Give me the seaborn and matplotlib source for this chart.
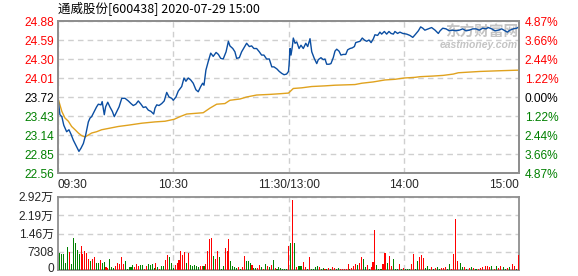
import numpy as np
import pandas as pd
import matplotlib
matplotlib.use("Agg")
import matplotlib.pyplot as plt
import matplotlib.transforms as mtransforms
import seaborn as sns

# ---------------- data ----------------
title = "通威股份[600438] 2020-07-29 15:00"
price_ticks = [22.56, 22.85, 23.14, 23.43, 23.72, 24.01, 24.30, 24.59, 24.88]
price_labels = ["22.56", "22.85", "23.14", "23.43", "23.72", "24.01", "24.30", "24.59", "24.88"]
pct_labels = ["4.87%", "3.66%", "2.44%", "1.22%", "0.00%", "1.22%", "2.44%", "3.66%", "4.87%"]
time_ticks = [0, 60, 120, 180, 240]
time_labels = ["09:30", "10:30", "11:30/13:00", "14:00", "15:00"]
vol_ticks = [0, 7308, 14616, 21924, 29232]
vol_labels = ["0", "7308", "1.46万", "2.19万", "2.92万"]

price_t = [0, 1, 2, 3, 4.5, 5.7, 6.8, 8, 9.7, 10.9, 12, 13.2, 14.4, 15.8, 16.7, 17.5, 18.9, 20.1, 21, 22.4,
           23, 24.1, 24.8, 25.9, 27, 28.3, 29.3, 30.6, 31.8, 33.2, 34.9, 36.6, 38, 39.2, 40.5, 41.8, 43.2, 44.4,
           45.7, 47, 48.4, 49.8, 50.5, 51.4, 52.6, 54, 55.3, 56.6, 57.8, 59.2, 60, 61.4, 62.6, 64.4, 65.6, 66.6,
           67.8, 69.1, 70.4, 71.8, 73, 74.3, 75.3, 76, 77, 78.2, 79.5, 80.8, 82.3, 83.5, 84.7, 86, 87.5, 88.7,
           89.5, 91, 92.1, 93, 94.4, 95.6, 96.8, 98.2, 99.6, 100.8, 102, 103.4, 104.8, 106, 107.2, 108.6, 110,
           111.3, 112.4, 113.9, 115.2, 116.5, 117.7, 119, 120,
           120.3, 120.8, 121.3, 122, 122.5, 123.4, 124.3, 125.5, 126.5, 127.7, 129, 130, 131.2, 132.1, 133.4,
           134.7, 135.5, 136.9, 138.1, 139, 139.9, 141.1, 142.1, 143.3, 144.2, 145.1, 146.3, 147.3, 148.5, 149.8,
           150.8, 152, 153.2, 154.3, 155, 156, 157.2, 158.4, 159.5, 160.7, 161.9, 163, 164.2, 165, 166.4, 167.6,
           168.5, 169.9, 171.1, 172.3, 173.4, 174.6, 175.4, 176.8, 178, 179.5, 181.5, 183.2, 184.7, 185.9, 187.6,
           188.8, 189.9, 191, 192.8, 194.5, 196.3, 198, 198.9, 200.3, 202, 203.7, 205.5, 207.2, 208.9, 210.7,
           212.4, 214.1, 215.9, 217.6, 219.3, 221.1, 222.8, 224, 225.8, 227.5, 229.2, 231, 232.7, 233.9, 235.3,
           237, 238.8, 240]
price = [23.70, 23.45, 23.42, 23.29, 23.19, 23.22, 23.15, 23.06, 22.96, 22.89, 22.94, 23.01, 23.14, 23.34, 23.40,
         23.42, 23.50, 23.57, 23.61, 23.60, 23.65, 23.45, 23.57, 23.64, 23.57, 23.50, 23.42, 23.50, 23.57, 23.70,
         23.70, 23.66, 23.62, 23.59, 23.61, 23.66, 23.61, 23.56, 23.57, 23.52, 23.50, 23.46, 23.55, 23.60, 23.59,
         23.62, 23.66, 23.79, 23.72, 23.70, 23.67, 23.72, 23.81, 23.88, 24.01, 23.96, 24.01, 23.98, 23.93, 23.83,
         23.80, 23.88, 23.93, 23.90, 24.13, 24.26, 24.39, 24.34, 24.40, 24.37, 24.31, 24.30, 24.41, 24.57, 24.50,
         24.46, 24.41, 24.31, 24.32, 24.41, 24.47, 24.54, 24.49, 24.50, 24.46, 24.46, 24.41, 24.36, 24.36, 24.30,
         24.30, 24.18, 24.18, 24.15, 24.11, 24.08, 24.06, 24.07, 24.11,
         24.21, 24.46, 24.36, 24.49, 24.62, 24.54, 24.56, 24.46, 24.51, 24.46, 24.54, 24.49, 24.61, 24.41, 24.31,
         24.23, 24.29, 24.32, 24.29, 24.30, 24.22, 24.22, 24.23, 24.32, 24.42, 24.45, 24.42, 24.36, 24.37, 24.37,
         24.44, 24.46, 24.47, 24.49, 24.55, 24.56, 24.57, 24.62, 24.59, 24.57, 24.59, 24.55, 24.61, 24.67, 24.66,
         24.71, 24.68, 24.72, 24.68, 24.72, 24.69, 24.68, 24.72, 24.69, 24.71, 24.69, 24.68, 24.66, 24.63, 24.67,
         24.73, 24.79, 24.77, 24.74, 24.76, 24.78, 24.74, 24.69, 24.73, 24.77, 24.76, 24.73, 24.74, 24.73, 24.74,
         24.76, 24.73, 24.74, 24.76, 24.76, 24.74, 24.77, 24.76, 24.78, 24.76, 24.73, 24.74, 24.76, 24.73, 24.71,
         24.74, 24.76, 24.77, 24.79]

avg_t = [0, 2, 3.6, 5.4, 7.1, 8.9, 10.6, 12.3, 14.1, 15.8, 17.5, 20.1, 22.7, 26.2, 31.4, 36.6, 43.6, 50.5, 55.7,
         60.5, 63.5, 67, 75.6, 79.1, 82.6, 86.9, 89.5, 94.8, 98.2, 103.4, 110.4, 115.6, 120, 122.5, 126.9, 132.1,
         139, 144.2, 154.6, 158.1, 164.1, 170.2, 175.4, 180.3, 185.9, 188.5, 195.4, 200.6, 205.8, 208.4, 219.7,
         229.2, 240]
avg = [23.70, 23.50, 23.40, 23.35, 23.27, 23.22, 23.17, 23.13, 23.11, 23.14, 23.17, 23.19, 23.22, 23.24, 23.27,
       23.29, 23.32, 23.34, 23.35, 23.38, 23.42, 23.46, 23.48, 23.55, 23.61, 23.62, 23.67, 23.69, 23.72, 23.75,
       23.76, 23.77, 23.78, 23.85, 23.86, 23.88, 23.89, 23.90, 23.91, 23.93, 23.95, 23.98, 23.99, 24.01, 24.02,
       24.03, 24.04, 24.05, 24.07, 24.09, 24.11, 24.12, 24.13]

# morning volumes, one per minute 09:31 .. 11:30
vol_am = [7036, 6630, 6630, 2706, 9200, 7440, 2570, 12720, 10690, 8250, 6630, 9470, 6630, 7850, 7036, 4600, 3790,
          4600, 5410, 2980, 2980, 4190, 2980, 3380, 1350, 950, 4600, 1350, 950, 1760, 2980, 2570, 5410, 2570, 3790,
          540, 1490, 1490, 2160, 1490, 2570, 1760, 2160, 2160, 540, 1760, 2570, 2160, 2570, 950, 2980, 1350, 540,
          1760, 1760, 4190, 6220, 5410, 2980, 1080, 2160, 2980, 4190, 7850, 6220, 7440, 2980, 7036, 2160, 1760,
          2160, 1760, 1350, 1760, 1760, 1890, 2570, 7850, 12310, 12720, 5820, 4600, 7850, 5410, 540, 1760, 8660,
          7850, 12310, 3790, 1760, 1350, 950, 1350, 540, 1350, 5820, 3790, 3790, 2980, 2160, 950, 950, 950, 2160,
          1350, 540, 2570, 1760, 1350, 2160, 4190, 950, 540, 1350, 950, 540, 540, 540, 9600]
dir_am = ("ggggg" "r" "ggggg" "rrrrr" "g" "rr" "gg" "r" "gg" "rr" "ggg" "rrrrr" "ggggg" "rrr" "gg" "rr"
          "gggg" "r" "g" "r" "gg" "rr" "ggg" "rrrrrr" "g" "r" "ggggg" "rr" "g" "rrrr" "g" "rr" "ggg" "rrr"
          "gggg" "r" "g" "rr" "ggg" "r" "gg" "rr" "g" "r" "g" "r" "g" "r" "g" "r" "gggggg" "r")
# afternoon volumes 13:01 .. 15:00
vol_pm = [10960, 27870, 10960, 1350, 1760, 1760, 1760, 3380, 1350, 540, 5410, 540, 540, 1350, 1760, 1350, 540,
          950, 540, 540, 950, 540, 1350, 950, 540, 950, 540, 540, 540, 540, 2570, 540, 950, 1760, 2570, 2160,
          2980, 5410, 4600, 1350, 2160, 540, 1350, 3380, 15960, 2160, 540, 540, 2570, 7036, 2980, 5820, 1760,
          4600, 540, 540, 2570, 540, 950, 540, 540, 540, 2570, 6630, 540, 3790, 5410, 6220, 5000, 950, 1760, 540,
          1350, 540, 950, 1350, 540, 950, 950, 1350, 540, 2570, 540, 6630, 20430, 3790, 2980, 1350, 1350, 540,
          950, 1350, 950, 540, 540, 950, 1350, 1760, 1760, 1350, 1760, 540, 1760, 950, 1760, 1350, 540, 950,
          1350, 2570, 1760, 540, 6220]
dir_pm = ("grgrgggrrg" "rggggrggrg" "rgrrggrrrr" "rgrrrgrrgg" "rgrrrgggrr" "grrgggrgrg"
          "ggrrggrrrg" "ggrgrggrrr" "ggrrrrggrg" "rgrgrrrrrr" "grgrrggrgr" "rgr")

# ---------------- style ----------------
sns.set_theme(style="white")
plt.rcParams["font.family"] = ["Liberation Sans", "Noto Sans CJK SC", "DejaVu Sans"]

RED = "#FF0000"
GREEN = "#008000"
FRAME = "#8f8f8f"
GRID = "#cfcfcf"

fig = plt.figure(figsize=(5.78, 2.76), dpi=100)
fig.patch.set_facecolor("white")
W, H = 578.0, 276.0
ax = fig.add_axes([58 / W, 1 - 173 / H, 461 / W, 152 / H])
axv = fig.add_axes([58 / W, 1 - 270.3 / H, 461 / W, 73.6 / H])

# price panel
df_p = pd.DataFrame({"t": price_t, "p": price})
df_a = pd.DataFrame({"t": avg_t, "p": avg})
sns.lineplot(data=df_a, x="t", y="p", ax=ax, color="#E0A21E", lw=1.0, estimator=None, sort=False, zorder=3)
sns.lineplot(data=df_p, x="t", y="p", ax=ax, color="#0B4EA2", lw=1.0, estimator=None, sort=False, zorder=4)

ax.set_xlim(0, 240)
ax.set_ylim(price_ticks[0], price_ticks[-1])
ax.set_yticks(price_ticks)
ax.set_yticklabels(price_labels)
ax.set_xticks(time_ticks)
ax.set_xticklabels(time_labels)
ax.set_xlabel("")
ax.set_ylabel("")
mid = 4
for i, lab in enumerate(ax.get_yticklabels()):
    lab.set_color(RED if i > mid else ("#000000" if i == mid else GREEN))
xl = ax.get_xticklabels()
xl[0].set_ha("left")
xl[-1].set_ha("right")
ax.tick_params(axis="both", length=0, labelsize=8.6, pad=3)
ax.tick_params(axis="x", pad=4)
ax.grid(True, color=GRID, linestyle=(0, (4, 3)), lw=1.0)

ax2 = ax.twinx()
ax2.set_ylim(price_ticks[0], price_ticks[-1])
ax2.set_yticks(price_ticks)
ax2.set_yticklabels(pct_labels)
for i, lab in enumerate(ax2.get_yticklabels()):
    lab.set_color(RED if i > mid else ("#000000" if i == mid else GREEN))
ax2.tick_params(axis="y", length=0, labelsize=8.6, pad=4)
ax2.grid(False)

for a in (ax, ax2, axv):
    for s in a.spines.values():
        s.set_color(FRAME)
        s.set_linewidth(1.3)

# watermark
ax.text(0.918, 0.93, "东方财富网", transform=ax.transAxes, ha="center", va="center",
        fontsize=10.5, fontweight="bold", style="italic", color="#c4c4c4", zorder=1,
        family=["Noto Sans CJK SC", "DejaVu Sans"])
ax.text(0.912, 0.843, "eastmoney.com", transform=ax.transAxes, ha="center", va="center",
        fontsize=7.5, fontweight="bold", style="italic", color="#c4c4c4", zorder=1)

# volume panel
n_am = min(len(vol_am), len(dir_am))
n_pm = min(len(vol_pm), len(dir_pm))
x_am = np.arange(120 - n_am + 1, 121)
idx = np.arange(n_pm)
x_pm = np.interp(idx, [0, 44, 84, n_pm - 1], [121, 165, 207, 240])
xs = np.concatenate([x_am, x_pm])
vs = np.array(vol_am[:n_am] + vol_pm[:n_pm])
cs = [RED if c == "r" else GREEN for c in (dir_am[:n_am] + dir_pm[:n_pm])]
axv.bar(xs, vs, width=0.55, color=cs, linewidth=0, zorder=3)
axv.set_xlim(0, 240)
axv.set_ylim(0, vol_ticks[-1])
axv.set_yticks(vol_ticks)
axv.set_yticklabels(vol_labels)
axv.set_xticks([60, 120, 180])
axv.set_xticklabels([])
axv.tick_params(axis="both", length=0, labelsize=8.6, pad=3)
axv.grid(True, color=GRID, linestyle=(0, (4, 3)), lw=1.0)
zero_lab = axv.get_yticklabels()[0]
zero_lab.set_transform(zero_lab.get_transform() +
                       mtransforms.ScaledTranslation(0, 2.5 / 100, fig.dpi_scale_trans))

fig.text(58 / W, 1 - 9 / H, title, ha="left", va="center", fontsize=9,
         family=["Noto Sans CJK SC", "DejaVu Sans"], color="#000000")

fig.savefig("out.png", dpi=100, facecolor="white")
